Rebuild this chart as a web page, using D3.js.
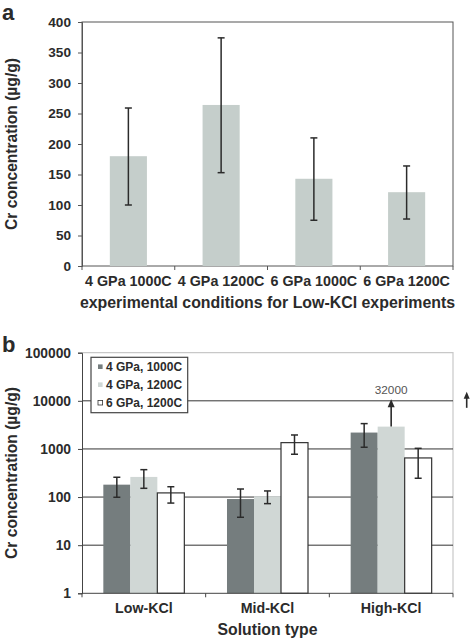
<!DOCTYPE html>
<html>
<head>
<meta charset="utf-8">
<script src="https://cdn.jsdelivr.net/npm/d3@7"></script>
<style>
  body { margin: 0; background: #fff; }
  svg { font-family: "Liberation Sans", Arial, sans-serif; }
</style>
</head>
<body>
<svg id="chart" width="474" height="641"></svg>
<script>
// Panel a data
const condA = ["4 GPa 1000C", "4 GPa 1200C", "6 GPa 1000C", "6 GPa 1200C"];
const meanA = [180, 264, 143, 121];
const lowA = [100, 153, 75, 77];
const highA = [259, 374, 210, 164];
const ticksA = [0, 50, 100, 150, 200, 250, 300, 350, 400];

// Panel b data
const groupsB = ["Low-KCl", "Mid-KCl", "High-KCl"];
const seriesB = ["4 GPa, 1000C", "4 GPa, 1200C", "6 GPa, 1200C"];
const s1000 = [181, 91, 2190];
const s1000Low = [99, 38, 1085];
const s1000High = [258, 147, 3360];
const s1200 = [262, 104, 2910];
const s1200Low = [152, 73, null];
const s1200High = [371, 134, null];
const s6Gpa = [122, 1352, 650];
const s6GpaLow = [75, 776, 246];
const s6GpaHigh = [164, 1950, 1030];
const ticksB = [1, 10, 100, 1000, 10000, 100000];
const gridB = [10, 100, 1000, 10000];
// off-scale value on High-KCl, 4 GPa 1200C
const arrowTo = 10000;
const arrowLabel = "32000";

const svg = d3.select("#chart");
const ink = "#2b2b2b";
const fontFam = "Liberation Sans, Arial, sans-serif";

// ---------- panel a ----------
let ma = {left: 82, top: 22, w: 371, h: 244};
let ga = svg.append("g").attr("transform", `translate(${ma.left},${ma.top})`);

let xa = d3.scaleBand().domain(condA).range([0, ma.w]).paddingInner(0.6).paddingOuter(0.3);
let xaEdge = d3.scaleBand().domain(condA).range([0, ma.w]);
let ya = d3.scaleLinear().domain([0, 400]).range([ma.h, 0]);

// frame
ga.append("rect").attr("width", ma.w).attr("height", ma.h)
  .attr("fill", "none").attr("stroke", "#555").attr("stroke-width", 1);

ga.selectAll(".bar").data(condA).enter().append("rect")
  .attr("x", d => xa(d))
  .attr("y", (d, i) => ya(meanA[i]))
  .attr("width", xa.bandwidth())
  .attr("height", (d, i) => ya(0) - ya(meanA[i]))
  .attr("fill", "#c5cecb");

// error bars
condA.forEach((d, i) => {
  let cx = xa(d) + xa.bandwidth() / 2;
  ga.append("line").attr("x1", cx).attr("x2", cx)
    .attr("y1", ya(lowA[i])).attr("y2", ya(highA[i]))
    .attr("stroke", ink).attr("stroke-width", 1.5);
  [lowA[i], highA[i]].forEach(v => {
    ga.append("line").attr("x1", cx - 3.5).attr("x2", cx + 3.5)
      .attr("y1", ya(v)).attr("y2", ya(v))
      .attr("stroke", ink).attr("stroke-width", 1.5);
  });
});

// y axis
let yAxisA = d3.axisLeft(ya).tickValues(ticksA).tickSize(4).tickPadding(7);
ga.append("g").call(yAxisA)
  .call(g => g.select(".domain").attr("stroke", "#555"))
  .call(g => g.selectAll(".tick line").attr("stroke", "#555"))
  .call(g => g.selectAll("text").attr("font-size", 13.6).attr("font-weight", "bold")
    .attr("fill", ink).attr("font-family", fontFam));

// x axis boundary ticks
let xBounds = condA.map(d => xaEdge(d)).concat([ma.w]);
ga.selectAll(".xtick").data(xBounds).enter().append("line")
  .attr("x1", d => d).attr("x2", d => d)
  .attr("y1", ma.h).attr("y2", ma.h + 4)
  .attr("stroke", "#555");
ga.selectAll(".xlab").data(condA).enter().append("text")
  .attr("x", d => xa(d) + xa.bandwidth() / 2)
  .attr("y", ma.h + 20)
  .attr("text-anchor", "middle")
  .attr("font-size", 14.3).attr("font-weight", "bold").attr("fill", ink)
  .text(d => d);

ga.append("text").attr("x", ma.w / 2).attr("y", ma.h + 41.5)
  .attr("text-anchor", "middle").attr("font-size", 15.9).attr("font-weight", "bold")
  .attr("fill", ink).text("experimental conditions for Low-KCl experiments");

svg.append("text").attr("transform", `translate(17,${ma.top + ma.h / 2}) rotate(-90)`)
  .attr("text-anchor", "middle").attr("font-size", 15.6).attr("font-weight", "bold")
  .attr("fill", ink).text("Cr concentration (µg/g)");

svg.append("text").attr("x", 2).attr("y", 20).attr("font-size", 22)
  .attr("font-weight", "bold").attr("fill", ink).text("a");

// ---------- panel b ----------
let mb = {left: 82, top: 352.7, w: 371, h: 240.6};
let gb = svg.append("g").attr("transform", `translate(${mb.left},${mb.top})`);

let x0 = d3.scaleBand().domain(groupsB).range([0, mb.w]);
let x1 = d3.scaleBand().domain(seriesB).range([0, x0.bandwidth()]).paddingInner(0).paddingOuter(0.79);
let yb = d3.scaleLog().domain([1, 100000]).range([mb.h, 0]);

// light top/right border
gb.append("path").attr("d", `M0,0H${mb.w}V${mb.h}`)
  .attr("fill", "none").attr("stroke", "#c8c8c8").attr("stroke-width", 1.2);

// gridlines
gb.selectAll(".grid").data(gridB).enter().append("line")
  .attr("x1", 0).attr("x2", mb.w)
  .attr("y1", d => yb(d)).attr("y2", d => yb(d))
  .attr("stroke", "#333").attr("stroke-width", 1);

let seriesData = [
  {name: seriesB[0], vals: s1000, lo: s1000Low, hi: s1000High, fill: "#757d7e", stroke: "none"},
  {name: seriesB[1], vals: s1200, lo: s1200Low, hi: s1200High, fill: "#d0d7d5", stroke: "none"},
  {name: seriesB[2], vals: s6Gpa, lo: s6GpaLow, hi: s6GpaHigh, fill: "#ffffff", stroke: "#333"}
];

seriesData.forEach(s => {
  gb.selectAll(null).data(groupsB).enter().append("rect")
    .attr("x", d => x0(d) + x1(s.name))
    .attr("y", (d, i) => yb(s.vals[i]))
    .attr("width", x1.bandwidth())
    .attr("height", (d, i) => yb(1) - yb(s.vals[i]))
    .attr("fill", s.fill)
    .attr("stroke", s.stroke).attr("stroke-width", 1.2);
});

seriesData.forEach(s => {
  groupsB.forEach((d, i) => {
    if (s.lo[i] == null) return;
    let cx = x0(d) + x1(s.name) + x1.bandwidth() / 2;
    gb.append("line").attr("x1", cx).attr("x2", cx)
      .attr("y1", yb(s.lo[i])).attr("y2", yb(s.hi[i]))
      .attr("stroke", ink).attr("stroke-width", 1.5);
    [s.lo[i], s.hi[i]].forEach(v => {
      gb.append("line").attr("x1", cx - 3.5).attr("x2", cx + 3.5)
        .attr("y1", yb(v)).attr("y2", yb(v))
        .attr("stroke", ink).attr("stroke-width", 1.5);
    });
  });
});

// arrow for off-scale value
let ax = x0("High-KCl") + x1(seriesB[1]) + x1.bandwidth() / 2;
let tipY = yb(arrowTo) - 1.5;
gb.append("line").attr("x1", ax).attr("x2", ax)
  .attr("y1", yb(s1200[2])).attr("y2", tipY + 6)
  .attr("stroke", ink).attr("stroke-width", 1.6);
gb.append("path").attr("d", `M${ax},${tipY}L${ax - 3.5},${tipY + 8}L${ax + 3.5},${tipY + 8}Z`)
  .attr("fill", ink);
gb.append("text").attr("x", ax).attr("y", tipY - 5)
  .attr("text-anchor", "middle").attr("font-size", 11.8).attr("fill", "#555")
  .text(arrowLabel);

// arrow at right margin
let rx = 466.7 - mb.left;
let rTop = yb(arrowTo) - 9;
gb.append("line").attr("x1", rx).attr("x2", rx)
  .attr("y1", rTop + 5).attr("y2", rTop + 16)
  .attr("stroke", ink).attr("stroke-width", 1.6);
gb.append("path").attr("d", `M${rx},${rTop}L${rx - 3},${rTop + 7}L${rx + 3},${rTop + 7}Z`)
  .attr("fill", ink);

// y axis
let yAxisB = d3.axisLeft(yb).tickValues(ticksB).tickFormat(d3.format("d")).tickSize(4).tickPadding(7);
gb.append("g").call(yAxisB)
  .call(g => g.select(".domain").attr("stroke", "#444"))
  .call(g => g.selectAll(".tick line").attr("stroke", "#444"))
  .call(g => g.selectAll("text").attr("font-size", 13.8).attr("font-weight", "bold")
    .attr("fill", ink).attr("font-family", fontFam));

// x axis
gb.append("line").attr("x1", 0).attr("x2", mb.w).attr("y1", mb.h).attr("y2", mb.h)
  .attr("stroke", "#444");
let xbBounds = groupsB.map(d => x0(d)).concat([mb.w]);
gb.selectAll(".xtick").data(xbBounds).enter().append("line")
  .attr("x1", d => d).attr("x2", d => d)
  .attr("y1", mb.h).attr("y2", mb.h + 4)
  .attr("stroke", "#444");
gb.selectAll(".xlab").data(groupsB).enter().append("text")
  .attr("x", d => x0(d) + x0.bandwidth() / 2)
  .attr("y", mb.h + 20)
  .attr("text-anchor", "middle").attr("font-size", 14.2).attr("font-weight", "bold")
  .attr("fill", ink).text(d => d);
gb.append("text").attr("x", mb.w / 2).attr("y", mb.h + 42)
  .attr("text-anchor", "middle").attr("font-size", 15.8).attr("font-weight", "bold")
  .attr("fill", ink).text("Solution type");

svg.append("text").attr("transform", `translate(17,${mb.top + mb.h / 2}) rotate(-90)`)
  .attr("text-anchor", "middle").attr("font-size", 15.6).attr("font-weight", "bold")
  .attr("fill", ink).text("Cr concentration (µg/g)");

svg.append("text").attr("x", 2).attr("y", 352).attr("font-size", 22)
  .attr("font-weight", "bold").attr("fill", ink).text("b");

// legend
let lg = svg.append("g").attr("transform", "translate(91,357.3)");
lg.append("rect").attr("width", 96.7).attr("height", 55.4)
  .attr("fill", "#fff").attr("stroke", "#444").attr("stroke-width", 1.2);
seriesData.forEach((s, i) => {
  let cy = 9.4 + i * 18;
  lg.append("rect").attr("x", 7).attr("y", cy - 2.3).attr("width", 4.6).attr("height", 4.6)
    .attr("fill", s.fill).attr("stroke", s.stroke).attr("stroke-width", 0.8);
  lg.append("text").attr("x", 15).attr("y", cy + 4.2)
    .attr("font-size", 12).attr("font-weight", "bold").attr("fill", ink)
    .text(s.name);
});
</script>
</body>
</html>
